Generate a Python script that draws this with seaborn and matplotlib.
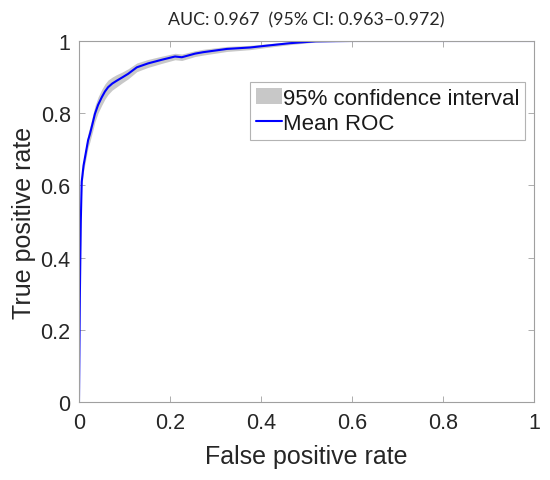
import matplotlib
matplotlib.use("Agg")
import matplotlib.pyplot as plt
import numpy as np
import pandas as pd
import seaborn as sns

# mean ROC curve
fpr = [0.0, 0.002, 0.004, 0.006, 0.010, 0.015, 0.020, 0.024, 0.030, 0.035, 0.042,
       0.050, 0.057, 0.064, 0.073, 0.083, 0.095, 0.108, 0.127, 0.152, 0.182,
       0.211, 0.226, 0.255, 0.273, 0.325, 0.376, 0.412, 0.464, 0.520, 0.600,
       0.700, 0.800, 0.900, 1.0]
tpr = [0.0, 0.30, 0.50, 0.61, 0.655, 0.69, 0.725, 0.742, 0.772, 0.798, 0.823,
       0.844, 0.860, 0.872, 0.882, 0.890, 0.899, 0.909, 0.927, 0.938, 0.948,
       0.957, 0.955, 0.965, 0.969, 0.978, 0.982, 0.987, 0.994, 0.999, 1.0,
       1.0, 1.0, 1.0, 1.0]
# half width of the 95% band at each point
ci_half = [0.0, 0.006, 0.010, 0.014, 0.016, 0.018, 0.020, 0.021, 0.022, 0.022, 0.022,
           0.022, 0.021, 0.020, 0.018, 0.017, 0.015, 0.014, 0.012, 0.011, 0.010,
           0.009, 0.009, 0.008, 0.008, 0.007, 0.006, 0.005, 0.004, 0.002, 0.0,
           0.0, 0.0, 0.0, 0.0]

ticks = [0, 0.2, 0.4, 0.6, 0.8, 1]
tick_labels = ["0", "0.2", "0.4", "0.6", "0.8", "1"]
title_text = "AUC: 0.967  (95% CI: 0.963\u20130.972)"

df = pd.DataFrame({"fpr": fpr, "tpr": tpr, "ci": ci_half})
df["lo"] = (df["tpr"] - df["ci"]).clip(0, 1)
df["hi"] = (df["tpr"] + df["ci"]).clip(0, 1)

sns.set_style("white")
plt.rcParams["font.family"] = ["Liberation Sans", "DejaVu Sans"]

fig = plt.figure(figsize=(5.5, 4.81), dpi=100)
ax = fig.add_axes([0.1436, 0.1622, 0.8273, 0.7505])

ax.fill_between(df["fpr"], df["lo"], df["hi"], color="#c8c8c8", linewidth=0,
                label="95% confidence interval")
sns.lineplot(data=df, x="fpr", y="tpr", ax=ax, sort=False, estimator=None,
             color="#0000ff", linewidth=1.5, label="Mean ROC")

ax.set_xlim(0, 1)
ax.set_ylim(0, 1)
ax.set_xticks(ticks)
ax.set_yticks(ticks)
ax.set_xticklabels(tick_labels)
ax.set_yticklabels(tick_labels)
ax.tick_params(direction="in", length=4, width=0.6, color="#a0a0a0",
               labelsize=15.5, labelcolor="#262626", top=True, right=True,
               bottom=True, left=True)
ax.tick_params(axis="x", pad=7)
ax.tick_params(axis="y", pad=6)
for s in ax.spines.values():
    s.set_color("#a0a0a0")
    s.set_linewidth(0.8)
    s.set_visible(True)

ax.set_xlabel("False positive rate", fontsize=18, color="#262626", labelpad=8)
ax.set_ylabel("True positive rate", fontsize=18, color="#262626", labelpad=3)
ax.set_title(title_text, fontsize=12.8, family=["Lato", "DejaVu Sans"],
             color="#262626", pad=12)

leg = ax.legend(loc="upper left", bbox_to_anchor=(0.376, 0.886), fontsize=16,
                frameon=True, fancybox=False, edgecolor="#a0a0a0",
                handlelength=1.2, handletextpad=0.05, borderpad=0.25,
                labelspacing=0.2, borderaxespad=0)
leg.get_frame().set_linewidth(0.8)
for t in leg.get_texts():
    t.set_color("#1a1a1a")

fig.savefig("out.png", dpi=100)
